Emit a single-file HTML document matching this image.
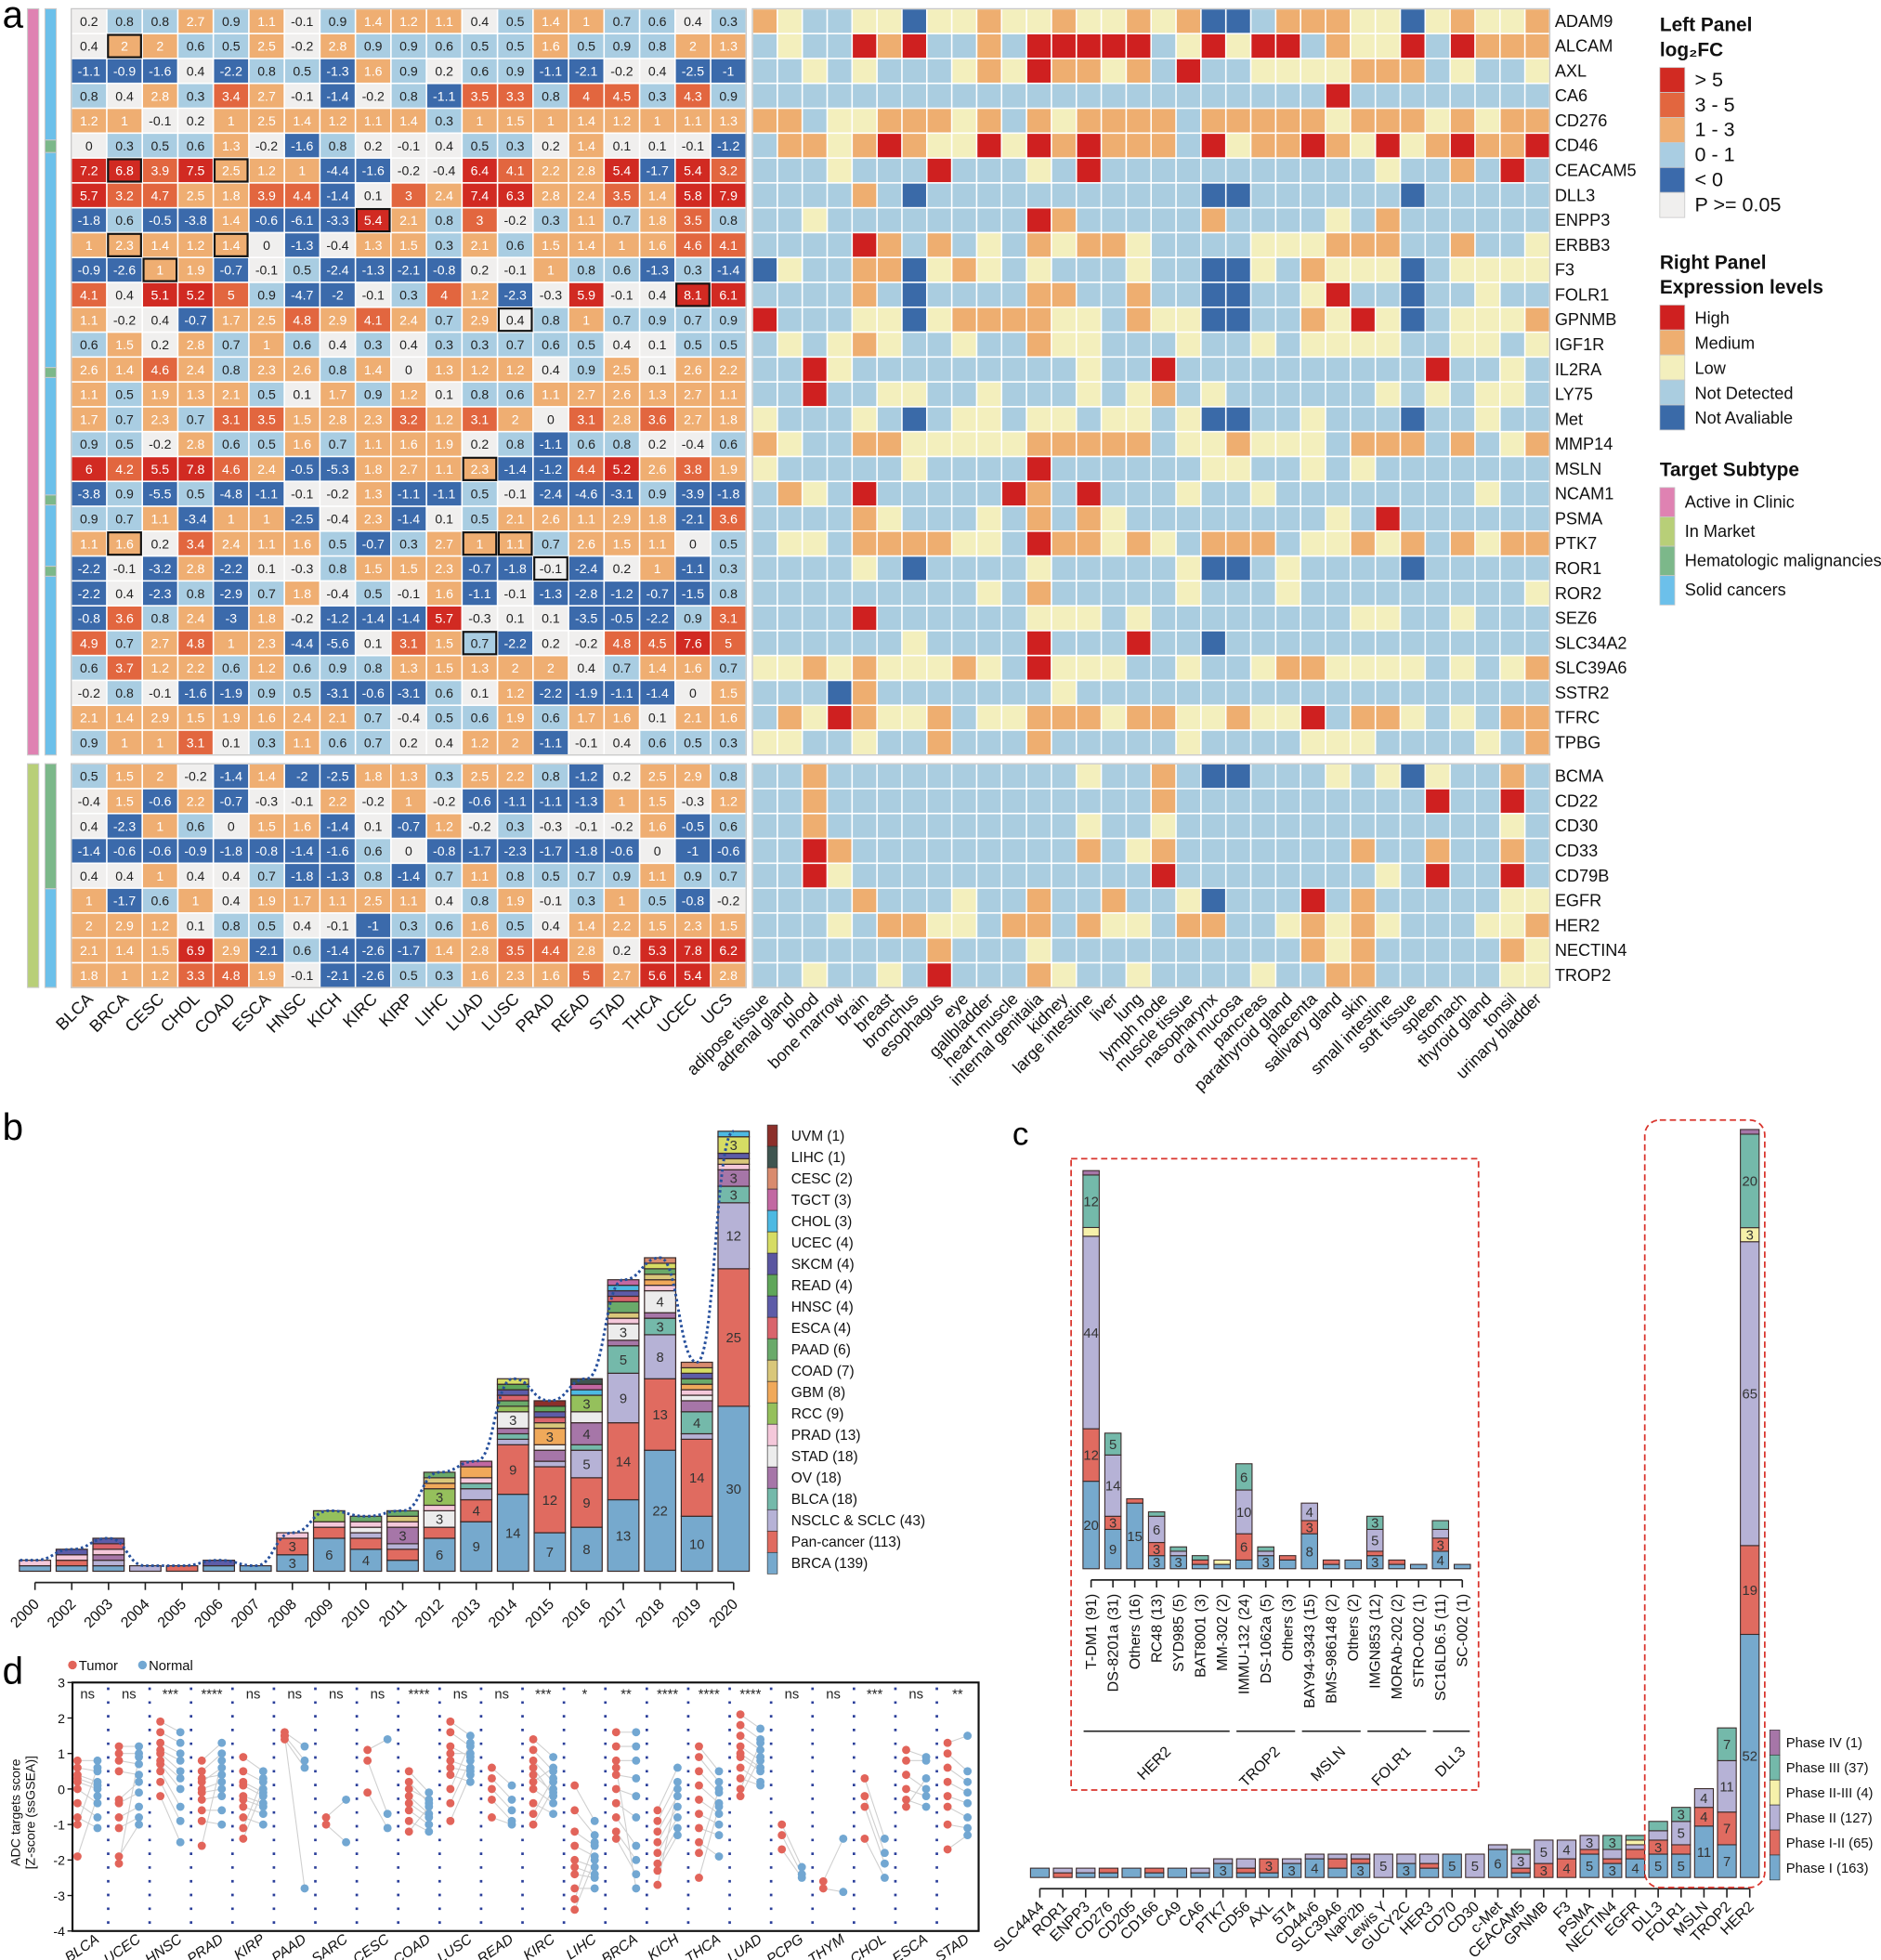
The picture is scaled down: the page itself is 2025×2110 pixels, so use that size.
<!DOCTYPE html>
<html><head><meta charset="utf-8"><title>ADC targets figure</title>
<style>
html,body{margin:0;padding:0;background:#fff;}
svg{display:block;font-family:"Liberation Sans",Arial,sans-serif;}
</style></head>
<body>
<svg id="fig" width="2025" height="2110" viewBox="0 0 1505 1568" preserveAspectRatio="none" xmlns="http://www.w3.org/2000/svg">
<rect x="0" y="0" width="1505" height="1568" fill="#fff"/>
<text x="2" y="22" font-size="30">a</text>
<text x="2" y="912" font-size="30">b</text>
<text x="810" y="916" font-size="26">c</text>
<text x="2" y="1347" font-size="30">d</text>
<g id="ga"></g><g id="gb"></g><g id="gc"></g><g id="gd"></g>
</svg>
<script>
// ================= PANEL A DATA =================
const cancers = ["BLCA","BRCA","CESC","CHOL","COAD","ESCA","HNSC","KICH","KIRC","KIRP","LIHC","LUAD","LUSC","PRAD","READ","STAD","THCA","UCEC","UCS"];
const tissues = ["adipose tissue","adrenal gland","blood","bone marrow","brain","breast","bronchus","esophagus","eye","gallbladder","heart muscle","internal genitalia","kidney","large intestine","liver","lung","lymph node","muscle tissue","nasopharynx","oral mucosa","pancreas","parathyroid gland","placenta","salivary gland","skin","small intestine","soft tissue","spleen","stomach","thyroid gland","tonsil","urinary bladder"];
const genesTop = ["ADAM9","ALCAM","AXL","CA6","CD276","CD46","CEACAM5","DLL3","ENPP3","ERBB3","F3","FOLR1","GPNMB","IGF1R","IL2RA","LY75","Met","MMP14","MSLN","NCAM1","PSMA","PTK7","ROR1","ROR2","SEZ6","SLC34A2","SLC39A6","SSTR2","TFRC","TPBG"];
const genesBottom = ["BCMA","CD22","CD30","CD33","CD79B","EGFR","HER2","NECTIN4","TROP2"];
const fcTop = [
[0.2,0.8,0.8,2.7,0.9,1.1,-0.1,0.9,1.4,1.2,1.1,0.4,0.5,1.4,1,0.7,0.6,0.4,0.3],
[0.4,2,2,0.6,0.5,2.5,-0.2,2.8,0.9,0.9,0.6,0.5,0.5,1.6,0.5,0.9,0.8,2,1.3],
[-1.1,-0.9,-1.6,0.4,-2.2,0.8,0.5,-1.3,1.6,0.9,0.2,0.6,0.9,-1.1,-2.1,-0.2,0.4,-2.5,-1],
[0.8,0.4,2.8,0.3,3.4,2.7,-0.1,-1.4,-0.2,0.8,-1.1,3.5,3.3,0.8,4,4.5,0.3,4.3,0.9],
[1.2,1,-0.1,0.2,1,2.5,1.4,1.2,1.1,1.4,0.3,1,1.5,1,1.4,1.2,1,1.1,1.3],
[0,0.3,0.5,0.6,1.3,-0.2,-1.6,0.8,0.2,-0.1,0.4,0.5,0.3,0.2,1.4,0.1,0.1,-0.1,-1.2],
[7.2,6.8,3.9,7.5,2.5,1.2,1,-4.4,-1.6,-0.2,-0.4,6.4,4.1,2.2,2.8,5.4,-1.7,5.4,3.2],
[5.7,3.2,4.7,2.5,1.8,3.9,4.4,-1.4,0.1,3,2.4,7.4,6.3,2.8,2.4,3.5,1.4,5.8,7.9],
[-1.8,0.6,-0.5,-3.8,1.4,-0.6,-6.1,-3.3,5.4,2.1,0.8,3,-0.2,0.3,1.1,0.7,1.8,3.5,0.8],
[1,2.3,1.4,1.2,1.4,0,-1.3,-0.4,1.3,1.5,0.3,2.1,0.6,1.5,1.4,1,1.6,4.6,4.1],
[-0.9,-2.6,1,1.9,-0.7,-0.1,0.5,-2.4,-1.3,-2.1,-0.8,0.2,-0.1,1,0.8,0.6,-1.3,0.3,-1.4],
[4.1,0.4,5.1,5.2,5,0.9,-4.7,-2,-0.1,0.3,4,1.2,-2.3,-0.3,5.9,-0.1,0.4,8.1,6.1],
[1.1,-0.2,0.4,-0.7,1.7,2.5,4.8,2.9,4.1,2.4,0.7,2.9,0.4,0.8,1,0.7,0.9,0.7,0.9],
[0.6,1.5,0.2,2.8,0.7,1,0.6,0.4,0.3,0.4,0.3,0.3,0.7,0.6,0.5,0.4,0.1,0.5,0.5],
[2.6,1.4,4.6,2.4,0.8,2.3,2.6,0.8,1.4,0,1.3,1.2,1.2,0.4,0.9,2.5,0.1,2.6,2.2],
[1.1,0.5,1.9,1.3,2.1,0.5,0.1,1.7,0.9,1.2,0.1,0.8,0.6,1.1,2.7,2.6,1.3,2.7,1.1],
[1.7,0.7,2.3,0.7,3.1,3.5,1.5,2.8,2.3,3.2,1.2,3.1,2,0,3.1,2.8,3.6,2.7,1.8],
[0.9,0.5,-0.2,2.8,0.6,0.5,1.6,0.7,1.1,1.6,1.9,0.2,0.8,-1.1,0.6,0.8,0.2,-0.4,0.6],
[6,4.2,5.5,7.8,4.6,2.4,-0.5,-5.3,1.8,2.7,1.1,2.3,-1.4,-1.2,4.4,5.2,2.6,3.8,1.9],
[-3.8,0.9,-5.5,0.5,-4.8,-1.1,-0.1,-0.2,1.3,-1.1,-1.1,0.5,-0.1,-2.4,-4.6,-3.1,0.9,-3.9,-1.8],
[0.9,0.7,1.1,-3.4,1,1,-2.5,-0.4,2.3,-1.4,0.1,0.5,2.1,2.6,1.1,2.9,1.8,-2.1,3.6],
[1.1,1.6,0.2,3.4,2.4,1.1,1.6,0.5,-0.7,0.3,2.7,1,1.1,0.7,2.6,1.5,1.1,0,0.5],
[-2.2,-0.1,-3.2,2.8,-2.2,0.1,-0.3,0.8,1.5,1.5,2.3,-0.7,-1.8,-0.1,-2.4,0.2,1,-1.1,0.3],
[-2.2,0.4,-2.3,0.8,-2.9,0.7,1.8,-0.4,0.5,-0.1,1.6,-1.1,-0.1,-1.3,-2.8,-1.2,-0.7,-1.5,0.8],
[-0.8,3.6,0.8,2.4,-3,1.8,-0.2,-1.2,-1.4,-1.4,5.7,-0.3,0.1,0.1,-3.5,-0.5,-2.2,0.9,3.1],
[4.9,0.7,2.7,4.8,1,2.3,-4.4,-5.6,0.1,3.1,1.5,0.7,-2.2,0.2,-0.2,4.8,4.5,7.6,5],
[0.6,3.7,1.2,2.2,0.6,1.2,0.6,0.9,0.8,1.3,1.5,1.3,2,2,0.4,0.7,1.4,1.6,0.7],
[-0.2,0.8,-0.1,-1.6,-1.9,0.9,0.5,-3.1,-0.6,-3.1,0.6,0.1,1.2,-2.2,-1.9,-1.1,-1.4,0,1.5],
[2.1,1.4,2.9,1.5,1.9,1.6,2.4,2.1,0.7,-0.4,0.5,0.6,1.9,0.6,1.7,1.6,0.1,2.1,1.6],
[0.9,1,1,3.1,0.1,0.3,1.1,0.6,0.7,0.2,0.4,1.2,2,-1.1,-0.1,0.4,0.6,0.5,0.3]];
const fcBottom = [
[0.5,1.5,2,-0.2,-1.4,1.4,-2,-2.5,1.8,1.3,0.3,2.5,2.2,0.8,-1.2,0.2,2.5,2.9,0.8],
[-0.4,1.5,-0.6,2.2,-0.7,-0.3,-0.1,2.2,-0.2,1,-0.2,-0.6,-1.1,-1.1,-1.3,1,1.5,-0.3,1.2],
[0.4,-2.3,1,0.6,0,1.5,1.6,-1.4,0.1,-0.7,1.2,-0.2,0.3,-0.3,-0.1,-0.2,1.6,-0.5,0.6],
[-1.4,-0.6,-0.6,-0.9,-1.8,-0.8,-1.4,-1.6,0.6,0,-0.8,-1.7,-2.3,-1.7,-1.8,-0.6,0,-1,-0.6],
[0.4,0.4,1,0.4,0.4,0.7,-1.8,-1.3,0.8,-1.4,0.7,1.1,0.8,0.5,0.7,0.9,1.1,0.9,0.7],
[1,-1.7,0.6,1,0.4,1.9,1.7,1.1,2.5,1.1,0.4,0.8,1.9,-0.1,0.3,1,0.5,-0.8,-0.2],
[2,2.9,1.2,0.1,0.8,0.5,0.4,-0.1,-1,0.3,0.6,1.6,0.5,0.4,1.4,2.2,1.5,2.3,1.5],
[2.1,1.4,1.5,6.9,2.9,-2.1,0.6,-1.4,-2.6,-1.7,1.4,2.8,3.5,4.4,2.8,0.2,5.3,7.8,6.2],
[1.8,1,1.2,3.3,4.8,1.9,-0.1,-2.1,-2.6,0.5,0.3,1.6,2.3,1.6,5,2.7,5.6,5.4,2.8]];
const exprTop = ["MLNNLLALLMLLMLLMLMAANMMMLLALMLLM","NLNNHMHNNMNHHHHHNLHLHHNMLLHNHMMM","NNLNLNNNLMLHMMLMNHNNLLLLMMMNLNNL","24H","MMNLLMMMLMNMLMMMMNMMMMMLMMMLMLMM","NMMLMHMLLHLHMHMMMNHLMMHMLHLMHMMH",
"4L 8H 12L 14H 26L 29M 31H","5M 7A 19A 20A 27A","3L 12H 13M 19M 24L 26M","NNNNHMNMNLNMLMMLNNNNLLLMMMNNMNNL",
"1A 2L 5M 6M 7A 8L 9M 10L 12L 16L 19A 20A 21L 23M 24L 25L 26L 27A 29L 30L 31L 32L","5M 7A 12M 13M 16M 19A 20A 23L 24H 27A 30L",
"1H 5L 6L 7A 8L 9M 10M 11M 12M 13L 14L 16M 17L 18L 19A 20A 23M 24L 25H 26L 27A 29L 30L 31L 32M",
"2L 4L 5M 6L 9L 12M 13L 14L 18L 21L 23L 24L 25L 26L 29L 30L 32L","3H 4L 14L 17H 28H 31L","3H 6L 7L 10L 14L 16L 17M 19L 26L 28L 30L 31L",
"1L 5L 7A 9L 10L 12L 13L 15L 16L 18L 19A 20A 23L 27A 30L",
"1M 2L 5M 6M 7L 8L 9L 10L 11L 12M 13M 14M 15M 16M 18L 19L 20M 21L 22L 23L 25M 26M 27M 29M 31L 32M",
"1L 7L 12H 19L 20L 23L 25L","2M 3L 5H 11H 12M 14H 18L 21L 30L","5M 6L 10L 12M 14M 15L 24L 26H",
"2L 3L 5M 6M 7M 8M 9L 10L 12H 13M 14M 15L 16M 17L 19M 20M 21M 23L 24L 25M 26L 27M 29M 30L 31M 32M",
"5L 7A 12L 18L 19A 20A 22L 27A","10L 12M 18L 22L 32L","5H 12L 13L 14L 16L 25L 26L 29L","7L 12H 16H 19A",
"1L 2L 3M 4L 5M 6L 7L 8L 9M 10L 12H 13L 14L 15L 18L 21L 22M 23M 24L 25L 26L 27L 29L 31L 32M","4A 5M 13L",
"2M 3L 4H 5M 6L 7L 8M 10L 11L 12M 13M 14M 15L 16M 17M 18L 19L 20M 21L 22L 23H 25M 26M 27L 29L 31M 32M",
"1L 2L 5L 8M 12M 18L 23L 24L 25L 30L 32M"];
const exprBottom = ["3M 14L 17M 19A 20A 24L 26L 27A 28L 31M","3M 17M 28H 31H","3M 14L 17L 31L","3H 4M 14M 16L 17M 25M 28M 31M",
"3H 4L 17H 26L 28H 31H","5M 9L 12M 15M 18L 19A 23H 25M 31L 32L",
"4L 6M 7M 8L 9L 11M 12M 14M 15L 16L 18M 19M 22L 23M 24L 25M 26L 30L 31L 32M","8M 12L 23M 24L 25M 31M 32L",
"3L 6L 8H 12M 13L 16L 21L 24M 25M 31L 32L"];

// ================= PANEL B DATA =================
const years = ["2000","2002","2003","2004","2005","2006","2007","2008","2009","2010","2011","2012","2013","2014","2015","2016","2017","2018","2019","2020"];
const cancerCats = ["BRCA","Pan-cancer","NSCLC & SCLC","BLCA","OV","STAD","PRAD","RCC","GBM","COAD","PAAD","ESCA","HNSC","READ","SKCM","UCEC","CHOL","TGCT","CESC","LIHC","UVM"];
const cancerTotals = [139,113,43,18,18,18,13,9,8,7,6,4,4,4,4,4,3,3,2,1,1];
const yearCounts = [
[1,0,0,0,0,0,1,0,0,0,0,0,0,0,0,0,0,0,0,0,0],
[1,1,0,0,0,0,1,0,0,0,0,0,1,0,0,0,0,0,0,0,0],
[1,0,1,0,1,0,1,0,0,0,0,1,1,0,0,0,0,0,0,0,0],
[0,0,1,0,0,0,0,0,0,0,0,0,0,0,0,0,0,0,0,0,0],
[0,1,0,0,0,0,0,0,0,0,0,0,0,0,0,0,0,0,0,0,0],
[1,0,0,0,0,0,0,0,0,0,0,0,1,0,0,0,0,0,0,0,0],
[1,0,0,0,0,0,0,0,0,0,0,0,0,0,0,0,0,0,0,0,0],
[3,3,0,0,0,0,1,0,0,0,0,0,0,0,0,0,0,0,0,0,0],
[6,2,0,0,0,0,1,2,0,0,0,0,0,0,0,0,0,0,0,0,0],
[4,2,1,0,0,1,1,0,0,0,1,0,0,0,0,0,0,0,0,0,0],
[2,2,1,0,3,0,1,0,0,1,1,0,0,0,0,0,0,0,0,0,0],
[6,2,0,0,0,3,1,3,1,1,1,0,0,0,0,0,0,0,0,0,0],
[9,4,2,1,0,0,1,0,2,0,0,0,0,0,0,0,0,1,0,0,0],
[14,9,1,1,1,3,0,1,0,0,1,1,1,1,0,1,0,0,0,0,0],
[7,12,1,0,2,1,0,0,3,1,0,1,1,1,0,0,0,0,0,0,1],
[8,9,5,1,4,2,0,3,0,0,0,0,0,0,0,0,1,1,0,1,0],
[13,14,9,5,1,3,1,0,0,1,2,1,1,0,0,0,1,1,0,0,0],
[22,13,8,3,1,4,1,0,1,1,1,0,0,0,0,1,0,0,1,0,0],
[10,14,1,4,2,1,1,0,1,0,1,0,1,0,0,1,0,0,1,0,0],
[30,25,12,3,3,0,1,0,0,1,0,0,1,0,0,3,1,0,0,0,0]];

// ================= PANEL C DATA =================
const phases = ["Phase I","Phase I-II","Phase II","Phase II-III","Phase III","Phase IV"];
const phaseTotals = [163,65,127,4,37,1];
const targets = ["SLC44A4","ROR1","ENPP3","CD276","CD205","CD166","CA9","CA6","PTK7","CD56","AXL","5T4","CD44v6","SLC39A6","NaPi2b","Lewis Y","GUCY2C","HER3","CD70","CD30","c-Met","CEACAM5","GPNMB","F3","PSMA","NECTIN4","EGFR","DLL3","FOLR1","MSLN","TROP2","HER2"];
const targetCounts = [
[2,0,0,0,0,0],[0,1,1,0,0,0],[1,0,1,0,0,0],[1,1,0,0,0,0],[2,0,0,0,0,0],[1,1,0,0,0,0],[2,0,0,0,0,0],[1,0,1,0,0,0],
[3,0,1,0,0,0],[1,1,2,0,0,0],[1,3,0,0,0,0],[3,0,1,0,0,0],[4,0,1,0,0,0],[2,2,1,0,0,0],[3,1,1,0,0,0],[0,0,5,0,0,0],
[3,0,2,0,0,0],[2,1,2,0,0,0],[5,0,0,0,0,0],[0,0,5,0,0,0],[6,0,1,0,0,0],[1,1,3,0,1,0],[0,3,5,0,0,0],[0,4,4,0,0,0],
[5,1,3,0,0,0],[3,1,2,0,3,0],[4,2,1,1,1,0],[5,3,2,0,2,0],[5,2,5,0,3,0],[11,4,4,0,0,0],[7,7,11,0,7,0],[52,19,65,3,20,1]];
const drugs = ["T-DM1 (91)","DS-8201a (31)","Others (16)","RC48 (13)","SYD985 (5)","BAT8001 (3)","MM-302 (2)","IMMU-132 (24)","DS-1062a (5)","Others (3)","BAY94-9343 (15)","BMS-986148 (2)","Others (2)","IMGN853 (12)","MORAb-202 (2)","STRO-002 (1)","SC16LD6.5 (11)","SC-002 (1)"];
const drugCounts = [
[20,12,44,2,12,1],[9,3,14,0,5,0],[15,1,0,0,0,0],[3,3,6,0,1,0],[3,0,1,0,1,0],[1,1,0,0,1,0],[1,0,0,1,0,0],
[2,6,10,0,6,0],[3,0,1,0,1,0],[2,1,0,0,0,0],[8,3,4,0,0,0],[1,1,0,0,0,0],[2,0,0,0,0,0],
[3,1,5,0,3,0],[1,1,0,0,0,0],[1,0,0,0,0,0],[4,3,2,0,2,0],[1,0,0,0,0,0]];
const drugGroups = [["HER2",0,6],["TROP2",7,9],["MSLN",10,12],["FOLR1",13,15],["DLL3",16,17]];

// ================= PANEL D DATA =================
const dCancers = ["BLCA","UCEC","HNSC","PRAD","KIRP","PAAD","SARC","CESC","COAD","LUSC","READ","KIRC","LIHC","BRCA","KICH","THCA","LUAD","PCPG","THYM","CHOL","ESCA","STAD"];
const dSig = ["ns","ns","***","****","ns","ns","ns","ns","****","ns","ns","***","*","**","****","****","****","ns","ns","***","ns","**"];
const dTumor = [
[0.8,0.6,0.4,0.2,0,-0.4,-0.8,-1,-1.9,0.3],[1.2,1,0.8,0.5,-0.3,-0.4,-0.8,-1.1,-1.9,-2.1],[1.9,1.6,1.3,1,0.7,0.5,0.2,-0.2,1.1,0.8],
[0.8,0.5,0.2,0,-0.3,-0.6,-0.9,-1.6,0.3,-0.1],[0.9,0.5,0.2,-0.2,-0.5,-0.8,-1.1,-1.4,0.1,-0.3],[1.6,1.5,1.4,1.5],[-0.8,-1],
[1.1,0.8,-0.1],[0.5,0.2,-0.2,-0.6,-0.9,-1.2,0,-0.4],[1.9,1.6,1.2,0.8,0.4,0,-0.4,-0.9,1,0.6],[0.6,0.3,0,-0.3,-0.8],
[1.4,1.1,0.8,0.4,0,-0.4,-0.7,-1,0.2,0.6],[0.1,-0.6,-1.2,-1.6,-2,-2.4,-2.8,-3.1,-3.4,-2.2],[1.6,1.2,0.8,0.4,0,-0.4,-0.8,-1.2,-1.4,0.6],
[-0.6,-0.9,-1.2,-1.5,-1.8,-2.1,-2.3,-2.7],[1.2,0.9,0.5,0.1,-0.3,-0.7,-1.1,-1.5,-1.8,-2.5],[2.1,1.8,1.5,1.2,0.9,0.6,0.3,0,-0.2,1],
[-1,-1.3,-1.7],[-2.6,-2.8],[0.3,-0.2,-0.5,-1.4],[1.1,0.8,0.4,0,-0.3,-0.5],[1.3,1,0.6,0.2,-0.2,-0.5,-1,-1.7]];
const dNormal = [
[0.8,0.5,0.2,0,-0.4,-0.8,-1.1,0.6,-0.2,0.1],[1.2,1,0.7,0.4,0.2,-0.1,-0.5,-0.8,-1,0.9],[1.6,1.3,1,0.5,0,-0.5,-0.9,-1.5,0.8,0.3],
[1.3,1,0.6,0.2,-0.2,-0.6,-1,0.8,0.4,0],[0.5,0.2,-0.1,-0.4,-0.7,-1,0.3,0,-0.2,-0.5],[1.2,0.8,0.6,-2.8],[-0.3,-1.5],
[1.4,-0.7,-1.1],[-0.1,-0.4,-0.7,-1,-1.2,-0.5,-0.3,-0.8],[1.5,1.2,0.9,0.6,0.2,1.3,0.8,0.4,1,0.5],[0.1,-0.3,-0.6,-0.9,-1],
[0.9,0.5,0.2,-0.1,-0.4,-0.7,0.3,0,0.6,-0.2],[-0.9,-1.3,-1.6,-1.9,-2.2,-2.5,-2.8,-1.5,-2,-2.4],[1.6,1.2,0.8,0.3,-0.2,-0.8,-1.6,-2,-2.4,-2.8],
[0.6,0.2,-0.2,-0.5,-0.8,-1.1,-1.3,0],[0.5,0.2,-0.1,-0.4,-0.7,-1,-1.3,-1.9,0,-0.5],[1.7,1.4,1.1,0.8,0.5,0.2,0.1,1.3,0.9,0.6],
[-2.2,-2.4,-2.5],[-1.4,-2.9],[-1.4,-1.8,-2.1,-2.5],[0.9,0.8,0,-0.2,-0.5,0.3],[1.5,0.5,0.2,-0.1,-0.4,-0.8,-1.1,-1.3]];
const dTicks = [3,2,1,0,-1,-2,-3,-4];

// ================= HELPERS =================
const NS="http://www.w3.org/2000/svg";
function mk(tag, attrs, parent){const e=document.createElementNS(NS,tag);for(const k in attrs)e.setAttribute(k,attrs[k]);parent.appendChild(e);return e;}
function txt(str, attrs, parent){const e=mk("text",attrs,parent);e.textContent=str;return e;}
const ga=document.getElementById("ga"),gb=document.getElementById("gb"),gc=document.getElementById("gc"),gd=document.getElementById("gd");

// ================= PANEL A =================
const FC={red:"#d12a22",dor:"#e2663f",or:"#efae72",lb:"#a9cde2",db:"#3b6aab",wh:"#f0efee"};
const EX={H:"#cf2020",M:"#eeae70",L:"#f3efbd",N:"#aacde0",A:"#3a6aa8"};
function fcColor(v){ if(Math.abs(v)<0.5&&v!==0.3)return FC.wh; if(v>5)return FC.red; if(v>=3)return FC.dor; if(v>=1)return FC.or; if(v>=0)return FC.lb; return FC.db;}
const lx0=57, lcw=(597-57)/19, rx0=602, rcw=(1240-602)/32, rh=19.9;
const blocks=[{genes:genesTop,fc:fcTop,ex:exprTop,y0:7},{genes:genesBottom,fc:fcBottom,ex:exprBottom,y0:611}];
function parseExpr(s){ if(!/\d/.test(s))return s.split(""); const a=new Array(32).fill("N"); s.split(" ").forEach(t=>{const p=parseInt(t);a[p-1]=t.replace(/\d+/,"");}); return a;}
const boxed=[[1,1],[6,1],[6,4],[8,8],[9,1],[9,4],[10,2],[11,17],[12,12],[18,11],[21,1],[21,11],[21,12],[22,13],[25,11]];
blocks.forEach((b,bi)=>{
  b.genes.forEach((g,ri)=>{
    const y=b.y0+ri*rh;
    b.fc[ri].forEach((v,ci)=>{
      const x=lx0+ci*lcw, c=fcColor(v);
      const r=mk("rect",{x:x+0.6,y:y+0.6,width:lcw-1.2,height:rh-1.2,fill:c},ga);
      
      
      const light=(c===FC.wh||c===FC.lb);
      const t=txt(String(v),{x:x+lcw/2,y:y+rh/2+3.8,"font-size":10.5,"text-anchor":"middle",fill:light?"#222":"#fff"},ga);
      
      
    });
    const ex=parseExpr(b.ex[ri]);
    ex.forEach((k,ci)=>{
      const r=mk("rect",{x:rx0+ci*rcw+0.6,y:y+0.6,width:rcw-1.2,height:rh-1.2,fill:EX[k]},ga);
      
      
    });
    const gl=txt(g,{x:1244,y:y+rh/2+4.5,"font-size":13.5,fill:"#111"},ga);
    
    
  });
  const h=b.genes.length*rh;
  const f1=mk("rect",{x:lx0,y:b.y0,width:19*lcw,height:h,fill:"none",stroke:"#c8c8c8","stroke-width":1},ga);
  
  
  const f2=mk("rect",{x:rx0,y:b.y0,width:32*rcw,height:h,fill:"none",stroke:"#c8c8c8","stroke-width":1},ga);
  
  
});
boxed.forEach(([r,c])=>{
  const e=mk("rect",{x:lx0+c*lcw+1,y:7+r*rh+1,width:lcw-2,height:rh-2,fill:"none",stroke:"#111","stroke-width":1.6},ga);
  
  
});
[[22,7,604-7,"#df82b2"],[22,611,179,"#b8cf78"],[36,7,604-7,"#6cc0ea"],[36,611,100,"#7cb88a"],[36,711,79,"#6cc0ea"],[36,112,10,"#7cb88a"],[36,294,8,"#7cb88a"],[36,396,8,"#7cb88a"],[36,453,8,"#7cb88a"]].forEach(a=>{
  const e=mk("rect",{x:a[0],y:a[1],width:9,height:a[2],fill:a[3],stroke:"#c9c9c9","stroke-width":0.8},ga);
  
  
});
cancers.forEach((c,i)=>{
  const x=lx0+i*lcw+lcw/2+4;
  const t=txt(c,{x:x,y:800,"font-size":13.5,"text-anchor":"end",transform:`rotate(-45 ${x} 800)`,fill:"#111"},ga);
  
  
});
tissues.forEach((c,i)=>{
  const x=rx0+i*rcw+rcw/2+4;
  const t=txt(c,{x:x,y:800,"font-size":13.5,"text-anchor":"end",transform:`rotate(-45 ${x} 800)`,fill:"#111"},ga);
  
  
});
function legendBlock(title, items, y0, step, sw){
  title.forEach((t,i)=>{const e=txt(t,{x:1328,y:y0+i*20,"font-size":15.5,"font-weight":"bold",fill:"#111"},ga);
    
    });
  const ys=y0+title.length*20-11;
  items.forEach((it,i)=>{
    const r=mk("rect",{x:1328,y:ys+i*step,width:sw,height:step,fill:it[1],stroke:"#c8c8c8","stroke-width":0.6},ga);
    
    
    const t=txt(it[0],{x:1328+sw+8,y:ys+i*step+step/2+5,"font-size":it[2]||14,fill:"#111"},ga);
    
    
  });
}
legendBlock(["Left Panel","log\u2082FC"],[["> 5",FC.red,16],["3 - 5",FC.dor,16],["1 - 3",FC.or,16],["0 - 1",FC.lb,16],["< 0",FC.db,16],["P >= 0.05",FC.wh,16]],25,20,20);
legendBlock(["Right Panel","Expression levels"],[["High",EX.H,13.5],["Medium",EX.M,13.5],["Low",EX.L,13.5],["Not Detected",EX.N,13.5],["Not Avaliable",EX.A,13.5]],215,20,20);
legendBlock(["Target Subtype"],[],381,23,13);
[["Active in Clinic","#df82b2"],["In Market","#b8cf78"],["Hematologic malignancies","#7cb88a"],["Solid cancers","#6cc0ea"]].forEach((it,i)=>{
  const r=mk("rect",{x:1328,y:390+i*23.5,width:12,height:23.5,fill:it[1],stroke:"#c8c8c8","stroke-width":0.6},ga);
  
  
  const t=txt(it[0],{x:1348,y:390+i*23.5+16,"font-size":13.5,fill:"#111"},ga);
  
  
});

// ================= PANEL B =================
const catColors=["#76a9cd","#e06b60","#b6b2d6","#74b9aa","#a676a8","#ececec","#f4c8da","#95c05c","#f0a95a","#d9c77a","#6aaa6a","#d9646c","#5d5ca8","#5fa65a","#5a56a0","#d6dc64","#4db9e2","#c268a2","#d98b6e","#3f5550","#8c2f2a"];
const bBase=1257, bUnit=4.4, bx0=28, bdx=29.42, bw=25;
const bY=v=>bBase-v*bUnit, bX=i=>bx0+i*bdx;
const tops=[];
yearCounts.forEach((row,i)=>{
  let acc=0;
  row.forEach((v,k)=>{
    if(!v)return;
    const r=mk("rect",{x:bX(i)-bw/2,y:bY(acc+v),width:bw,height:v*bUnit,fill:catColors[k],stroke:"#3a2a2a","stroke-width":0.9},gb);
    
    
    if(v>=3){const t=txt(String(v),{x:bX(i),y:bY(acc+v/2)+4,"font-size":11,"text-anchor":"middle",fill:"#333"},gb);
      
      }
    acc+=v;
  });
  tops.push([bX(i),bY(acc)]);
});
let dpath=`M${tops[0][0]-12},${tops[0][1]}L${tops[0][0]},${tops[0][1]}`;
for(let i=1;i<tops.length;i++){const mx=(tops[i-1][0]+tops[i][0])/2;dpath+=`C${mx},${tops[i-1][1]} ${mx},${tops[i][1]} ${tops[i][0]},${tops[i][1]}`;}
const tl=mk("path",{d:dpath,fill:"none",stroke:"#27509c","stroke-width":2.2,"stroke-dasharray":"2 2.2"},gb);


const bax=mk("line",{x1:bX(0),x2:bX(19),y1:1266,y2:1266,stroke:"#222","stroke-width":1.3},gb);


years.forEach((y,i)=>{
  const tk=mk("line",{x1:bX(i),x2:bX(i),y1:1266,y2:1272,stroke:"#222","stroke-width":1.2},gb);
  
  
  const t=txt(y,{x:bX(i)+4,y:1284,"font-size":12,"text-anchor":"end",transform:`rotate(-45 ${bX(i)+4} 1284)`,fill:"#111"},gb);
  
  
});
for(let k=cancerCats.length-1;k>=0;k--){
  const i=cancerCats.length-1-k, y=900+i*17.1;
  const r=mk("rect",{x:614,y:y,width:8,height:17.1,fill:catColors[k],stroke:"#333","stroke-width":0.5},gb);
  
  
  const t=txt(`${cancerCats[k]} (${cancerTotals[k]})`,{x:633,y:y+12.5,"font-size":11.5,fill:"#111"},gb);
  
  
}

// ================= PANEL C =================
const phColors=["#76a9cd","#e06b60","#b6b2d6","#f6f1aa","#74b9aa","#a676a8"];
function stackBars(counts, x0, dx, w, base, unit, g, nm){
  counts.forEach((row,i)=>{
    let acc=0; const x=x0+i*dx;
    row.forEach((v,k)=>{
      if(!v)return;
      const r=mk("rect",{x:x-w/2,y:base-(acc+v)*unit,width:w,height:v*unit,fill:phColors[k],stroke:"#3a2a2a","stroke-width":0.8},g);
      
      
      if(v>=3){const t=txt(String(v),{x:x,y:base-(acc+v/2)*unit+4,"font-size":11,"text-anchor":"middle",fill:"#333"},g);
        
        }
      acc+=v;
    });
  });
}
const cx0=832, cdx=(1400-832)/31, cBase=1502, cUnit=3.74;
stackBars(targetCounts,cx0,cdx,15,cBase,cUnit,gc,'target-bar-segment');
const cax=mk("line",{x1:cx0,x2:cx0+31*cdx,y1:1511,y2:1511,stroke:"#222","stroke-width":1.3},gc);


targets.forEach((s,i)=>{
  const x=cx0+i*cdx;
  const tk=mk("line",{x1:x,x2:x,y1:1511,y2:1518,stroke:"#222","stroke-width":1.2},gc);
  
  
  const t=txt(s,{x:x+4,y:1526,"font-size":12,"text-anchor":"end",transform:`rotate(-45 ${x+4} 1526)`,fill:"#111"},gc);
  
  
});
const hl=mk("rect",{x:1316,y:896,width:96,height:614,rx:12,fill:"none",stroke:"#d9342c","stroke-width":1.3,"stroke-dasharray":"5 3"},gc);


const ib=mk("rect",{x:857,y:927,width:326,height:505,fill:"none",stroke:"#d9342c","stroke-width":1.3,"stroke-dasharray":"5 3"},gc);


const ix0=873, idx=(1170-873)/17, iBase=1255, iUnit=3.5;
stackBars(drugCounts,ix0,idx,13,iBase,iUnit,gc,'drug-bar-segment');
const iax=mk("line",{x1:ix0,x2:ix0+17*idx,y1:1264,y2:1264,stroke:"#222","stroke-width":1.3},gc);


drugs.forEach((s,i)=>{
  const x=ix0+i*idx;
  const tk=mk("line",{x1:x,x2:x,y1:1264,y2:1270,stroke:"#222","stroke-width":1.2},gc);
  
  
  const t=txt(s,{x:x+4,y:1275,"font-size":12,"text-anchor":"end",transform:`rotate(-90 ${x+4} 1275)`,fill:"#111"},gc);
  
  
});
drugGroups.forEach(([nm,a,b])=>{
  const xa=ix0+a*idx-6, xb=ix0+b*idx+6;
  const l=mk("line",{x1:xa,x2:xb,y1:1385,y2:1385,stroke:"#222","stroke-width":1.2},gc);
  
  
  const xm=(xa+xb)/2+12;
  const t=txt(nm,{x:xm,y:1402,"font-size":12,"text-anchor":"end",transform:`rotate(-45 ${xm} 1402)`,fill:"#111"},gc);
  
  
});
for(let k=phases.length-1;k>=0;k--){
  const i=phases.length-1-k, y=1384+i*20;
  const r=mk("rect",{x:1416,y:y,width:8,height:20,fill:phColors[k],stroke:"#333","stroke-width":0.5},gc);
  
  
  const t=txt(`${phases[k]} (${phaseTotals[k]})`,{x:1429,y:y+14,"font-size":11,fill:"#111"},gc);
  
  
}

// ================= PANEL D =================
const dx0=58, dx1=783, dyTop=1346, dUnit=28.4, dcx0=70, ddx=33.15;
const dY=v=>dyTop+(3-v)*dUnit, dX=i=>dcx0+i*ddx;
const dbox=mk("rect",{x:dx0,y:dyTop,width:dx1-dx0,height:7*dUnit,fill:"none",stroke:"#111","stroke-width":1.6},gd);


dTicks.forEach(v=>{
  const tk=mk("line",{x1:dx0-4,x2:dx0,y1:dY(v),y2:dY(v),stroke:"#111","stroke-width":1},gd);
  
  
  const t=txt(String(v),{x:dx0-6,y:dY(v)+4,"font-size":10.5,"text-anchor":"end",fill:"#111"},gd);
  
  
});
const yl=txt("ADC targets score",{x:16,y:1450,"font-size":10.5,"text-anchor":"middle",transform:"rotate(-90 16 1450)",fill:"#111"},gd);


const yl2=txt("[Z-score (ssGSEA)]",{x:28,y:1450,"font-size":10.5,"text-anchor":"middle",transform:"rotate(-90 28 1450)",fill:"#111"},gd);


dCancers.forEach((c,i)=>{
  const x=dX(i);
  if(i>0){const sep=mk("line",{x1:x-ddx/2,x2:x-ddx/2,y1:dyTop+4,y2:dyTop+7*dUnit,stroke:"#2b3f9a","stroke-width":2,"stroke-dasharray":"2 9"},gd);
    
    }
  const T=dTumor[i], N=dNormal[i];
  T.forEach((v,k)=>{
    const l=mk("line",{x1:x-8,y1:dY(v),x2:x+8,y2:dY(N[k]),stroke:"#cfcfcf","stroke-width":0.8},gd);
    
    
  });
  T.forEach(v=>{const p=mk("circle",{cx:x-8,cy:dY(v),r:3.3,fill:"#e2645a"},gd);
    
    });
  N.forEach(v=>{const p=mk("circle",{cx:x+8,cy:dY(v),r:3.3,fill:"#72a7d2"},gd);
    
    });
  const s=txt(dSig[i],{x:x,y:1359,"font-size":11,"text-anchor":"middle",fill:"#222"},gd);
  
  
  const lx=x+10, ly=1553;
  const t=txt(c,{x:lx,y:ly,"font-size":11.5,"font-style":"italic","text-anchor":"end",transform:`rotate(-35 ${lx} ${ly})`,fill:"#111"},gd);
  
  
});
[["Tumor","#e2645a",58],["Normal","#72a7d2",114]].forEach(a=>{
  const c=mk("circle",{cx:a[2],cy:1332,r:3.5,fill:a[1]},gd);
  
  
  const t=txt(a[0],{x:a[2]+5,y:1336,"font-size":11,fill:"#111"},gd);
  
  
});
</script>
</body></html>
